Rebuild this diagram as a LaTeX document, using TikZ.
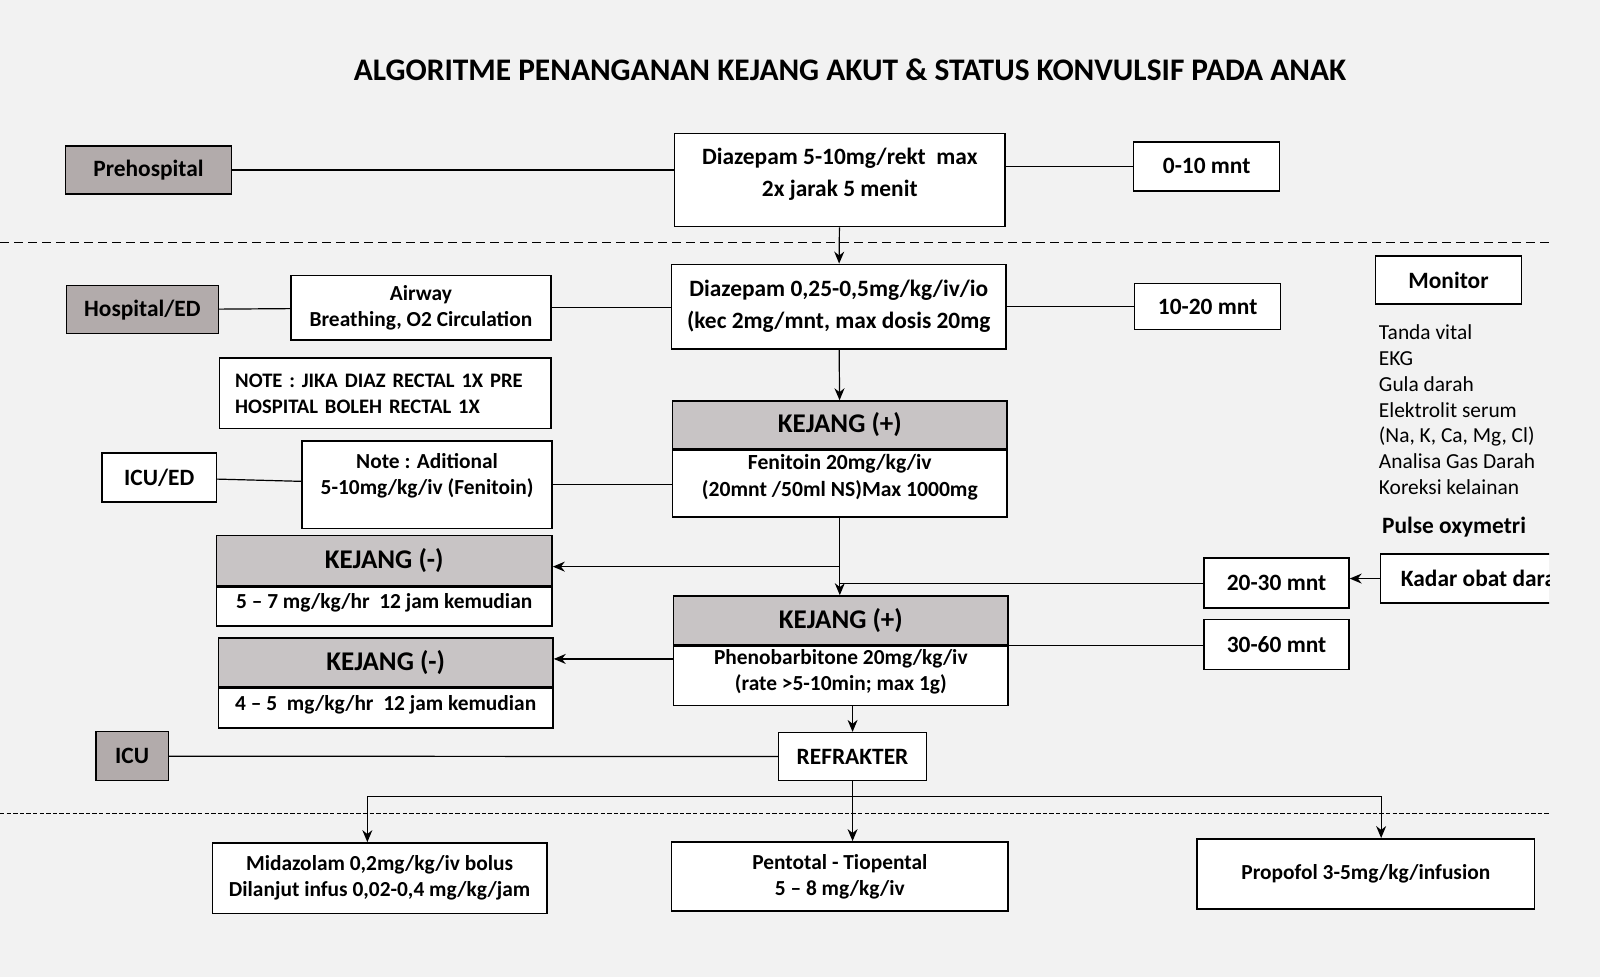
\documentclass[tikz,border=0pt]{standalone}
\usepackage{fontspec}
\setmainfont{Carlito}
\usetikzlibrary{positioning, arrows, arrows.meta, calc}
\definecolor{paper}{RGB}{242,242,242}
\definecolor{darkfill}{RGB}{178,171,171}
\definecolor{headfill}{RGB}{200,196,197}
\tikzstyle{box} = [rectangle, draw=black, line width=0.75pt, fill=white, align=center, inner sep=0pt, font=\bfseries\fontsize{10.7}{13}\selectfont]
\tikzstyle{tag} = [box, font=\bfseries\fontsize{11.7}{14}\selectfont]
\tikzstyle{place} = [tag, fill=darkfill]
\tikzstyle{timebox} = [tag, minimum width=73pt, minimum height=24.5pt]
\tikzstyle{kejhead} = [box, fill=headfill, minimum width=167.3pt, minimum height=24.5pt, font=\bfseries\fontsize{13.5}{16}\selectfont]
\tikzstyle{kejbody} = [box, minimum width=167.3pt]
\tikzstyle{line} = [line width=0.6pt]
\tikzstyle{arrow} = [line width=0.6pt,-{Stealth[length=6pt,width=5pt]}]
\tikzstyle{border} = [line width=0.6pt, dash pattern=on 4.5pt off 2.5pt]

\begin{document}
\begin{tikzpicture}[x=0.5102pt, y=-0.5102pt]

    \fill[paper] (0,0) rectangle (1568,957);
    \useasboundingbox (0,0) rectangle (1568,957);

    \node (title) at (833,68) [font=\bfseries\fontsize{15.7}{18}\selectfont] {ALGORITME PENANGANAN KEJANG AKUT \& STATUS KONVULSIF PADA ANAK};

    % prehospital
    \node (prehospital) at (145.5,166.5) [place, minimum width=83.2pt, minimum height=24pt] {Prehospital};
    \node (diaz_rect) at (823,176.5) [box, minimum width=165.3pt, minimum height=46.4pt, font=\bfseries\fontsize{11.7}{16}\selectfont] {Diazepam 5-10mg/rekt~~max\\2x jarak 5 menit\\[-8pt]\mbox{}};
    \node (t_0_10) at (1182.5,163) [timebox] {0-10 mnt};

    % hospital
    \node (hospital) at (139.5,303.5) [place, minimum width=76pt, minimum height=24pt] {Hospital/ED};
    \node (airway) at (412.5,301.5) [box, minimum width=130.1pt, minimum height=32.1pt] {Airway\\Breathing, O2 Circulation};
    \node (diaz_iv) at (822,300.5) [box, minimum width=167.3pt, minimum height=42.3pt, font=\bfseries\fontsize{11.7}{16}\selectfont] {Diazepam 0,25-0,5mg/kg/iv/io\\(kec 2mg/mnt, max dosis 20mg};
    \node (t_10_20) at (1183.5,300.5) [timebox, minimum height=23pt] {10-20 mnt};
    \node (monitor) at (1419.5,274.5) [tag, minimum width=73pt, minimum height=24pt] {Monitor};
    \node (monitor_list) at (1351,318) [anchor=north west, align=left, inner sep=0pt, font=\fontsize{10.7}{12.9}\selectfont] {Tanda vital\\EKG\\Gula darah\\Elektrolit serum\\(Na, K, Ca, Mg, Cl)\\Analisa Gas Darah\\Koreksi kelainan};
    \node (pulse) at (1354,517) [anchor=west, inner sep=0pt, font=\bfseries\fontsize{11.7}{14}\selectfont] {Pulse oxymetri};
    \node (note) at (377.5,385.5) [box, minimum width=165.8pt, minimum height=35.2pt, text width=150pt, align=left, font=\bfseries\fontsize{10.3}{13}\selectfont] {NOTE : JIKA DIAZ RECTAL 1X PRE\\HOSPITAL BOLEH RECTAL 1X};

    % fenitoin
    \node (kejang_1) at (823,416.5) [kejhead, minimum height=24pt] {KEJANG (+)};
    \node (fenitoin) [kejbody, below=0pt of kejang_1, minimum height=33.2pt, font=\bfseries\fontsize{10.8}{13.5}\selectfont] {Fenitoin 20mg/kg/iv\\(20mnt /50ml NS)Max 1000mg\\[-5.6pt]\mbox{}};
    \node (icu_ed) at (156,468) [tag, minimum width=57.1pt, minimum height=24.5pt] {ICU/ED};
    \node (aditional) at (418.5,475) [box, minimum width=125pt, minimum height=43.9pt] {Note : Aditional\\5-10mg/kg/iv (Fenitoin)\\[-2.5pt]\mbox{}};

    % kejang (-) 1
    \node (stop_1) at (376.5,549.5) [kejhead, minimum width=167.9pt, minimum height=25pt] {KEJANG (-)};
    \node (dose_1) [kejbody, below=0pt of stop_1, minimum width=167.9pt, minimum height=19.4pt, text height=8pt, text depth=6pt] {5 -- 7 mg/kg/hr~~12 jam kemudian};
    \node (t_20_30) at (1251,571.5) [timebox, minimum width=72.4pt, minimum height=25pt] {20-30 mnt};
    \begin{scope}
        \clip (0,0) rectangle (1518,957);
        \node (kadar) at (1455,567) [tag, minimum width=104pt, minimum height=24.5pt] {Kadar obat darah};
    \end{scope}

    % phenobarbitone
    \node (kejang_2) at (824,608) [kejhead] {KEJANG (+)};
    \node (pheno) [kejbody, below=0pt of kejang_2, minimum height=29.6pt] {Phenobarbitone 20mg/kg/iv\\(rate >5-10min; max 1g)\\[-7pt]\mbox{}};
    \node (t_30_60) at (1251,631.5) [timebox, minimum width=72.4pt, minimum height=25pt] {30-60 mnt};
    \node (stop_2) at (378,649) [kejhead] {KEJANG (-)};
    \node (dose_2) [kejbody, below=0pt of stop_2, minimum height=19.9pt, text height=8pt, text depth=6pt] {4 -- 5~~mg/kg/hr~~12 jam kemudian};

    % refrakter
    \node (refrakter) at (835.5,741.5) [tag, minimum width=74pt, minimum height=24pt] {REFRAKTER};
    \node (icu) at (129.5,741) [place, minimum width=36.2pt, minimum height=24.5pt] {ICU};
    \node (midazolam) at (372,860.5) [box, minimum width=167.3pt, minimum height=35.2pt] {Midazolam 0,2mg/kg/iv bolus\\Dilanjut infus 0,02-0,4 mg/kg/jam};
    \node (pentotal) at (823,859) [box, minimum width=168.4pt, minimum height=34.7pt] {Pentotal - Tiopental\\5 -- 8 mg/kg/iv};
    \node (propofol) at (1338.5,856.5) [box, minimum width=168.9pt, minimum height=35.2pt] {Propofol 3-5mg/kg/infusion};

    \coordinate (split_1) at ($(fenitoin.south)+(0,48)$);
    \coordinate (split_2) at ($(pheno.north west)+(0,13)$);
    \coordinate (split_3) at ($(refrakter.south)+(0,15)$);

    \draw [border] (0,238) -- (1518,238);
    \draw [border, dash pattern=on 2.2pt off 1.1pt] (0,797) -- (1518,797);

    \draw [line] (prehospital.east) -- (prehospital.east -| diaz_rect.west);
    \draw [line] (diaz_rect.east |- t_0_10.west) -- (t_0_10.west);
    \draw [arrow] (diaz_rect) -- (diaz_iv);
    \draw [line] (hospital) -- (airway);
    \draw [line] (airway.east) -- (airway.east -| diaz_iv.west);
    \draw [line] (diaz_iv.east) -- (diaz_iv.east -| t_10_20.west);
    \draw [arrow] (diaz_iv) -- (kejang_1);
    \draw [line] (icu_ed) -- (aditional);
    \draw [line] (aditional.east) -- (aditional.east -| fenitoin.west);
    \draw [arrow] (fenitoin.south) -- (fenitoin.south |- kejang_2.north);
    \draw [arrow] (split_1) -- (split_1 -| stop_1.east);
    \draw [line] (t_20_30.west) -- (t_20_30.west -| fenitoin.south);
    \draw [arrow] (kadar.west) -- (kadar.west -| t_20_30.east);
    \draw [line] (pheno.north east) -- (pheno.north east -| t_30_60.west);
    \draw [arrow] (split_2) -- (split_2 -| stop_2.east);
    \draw [arrow] (refrakter.north |- pheno.south) -- (refrakter.north);
    \draw [line] (icu) -- (refrakter);
    \draw [arrow] (refrakter.south) -- (refrakter.south |- pentotal.north);
    \draw [arrow] (split_3) -| ($(midazolam.north)+(-12,0)$);
    \draw [arrow] (split_3) -| ($(propofol.north)+(15,0)$);
\end{tikzpicture}
\end{document}
